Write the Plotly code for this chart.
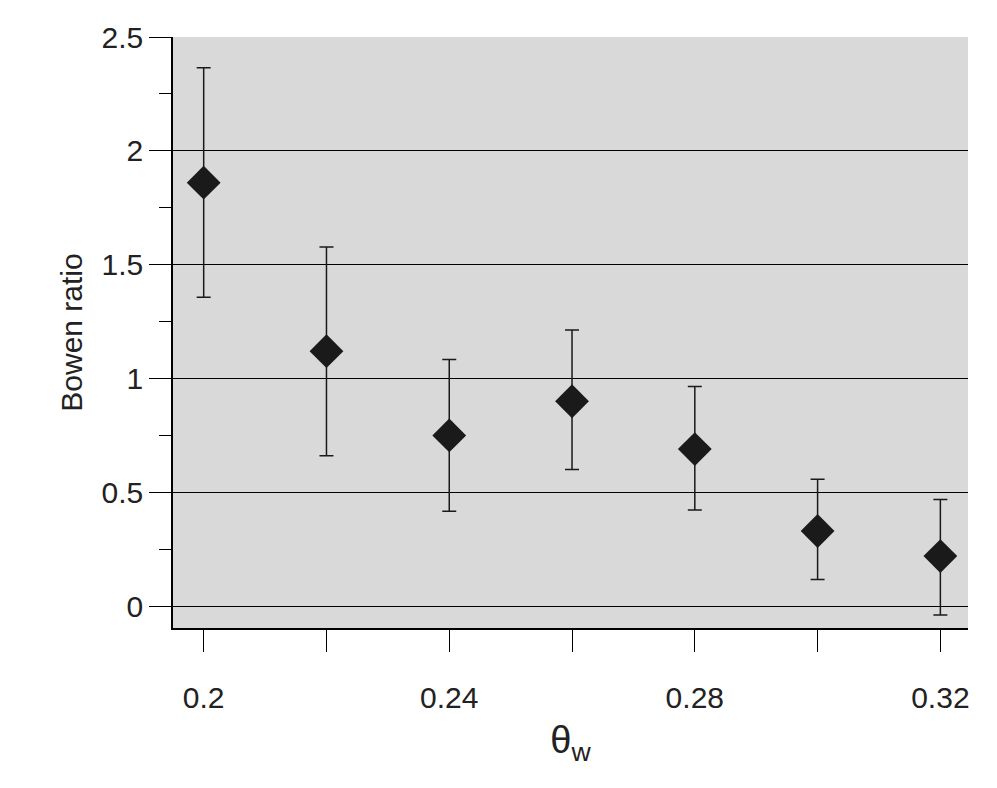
import plotly.graph_objects as go

theta_w = [0.20, 0.22, 0.24, 0.26, 0.28, 0.30, 0.32]
bowen = [1.86, 1.12, 0.75, 0.90, 0.69, 0.33, 0.22]
err_hi = [2.365, 1.578, 1.083, 1.213, 0.965, 0.557, 0.468]
err_lo = [1.357, 0.661, 0.417, 0.600, 0.422, 0.117, -0.039]

plus = [h - b for h, b in zip(err_hi, bowen)]
minus = [b - l for b, l in zip(bowen, err_lo)]

fig = go.Figure()
fig.add_trace(go.Scatter(
    x=theta_w, y=bowen, mode="markers",
    marker={"symbol": "diamond", "size": 26, "color": "#1a1a1a"},
    error_y={"type": "data", "array": plus, "arrayminus": minus,
             "color": "#1a1a1a", "thickness": 1.5, "width": 7},
    showlegend=False,
))

font = "Liberation Sans, Arial, sans-serif"
fig.update_xaxes(
    range=[0.195, 0.3245], tickvals=[0.2, 0.24, 0.28, 0.32],
    ticktext=["0.2", "0.24", "0.28", "0.32"],
    ticks="outside", ticklen=22, tickcolor="black",
    minor={"dtick": 0.02, "tick0": 0.2, "ticks": "outside", "ticklen": 22, "tickcolor": "black"},
    showgrid=False, zeroline=False, showline=True, linecolor="black", linewidth=1.5,
    tickfont={"size": 30, "family": font, "color": "#222"},
    ticklabelstandoff=20,
    title={"text": "θ<sub>w</sub>", "font": {"size": 38, "family": font, "color": "#222"}, "standoff": 14},
)
fig.update_yaxes(
    range=[-0.096, 2.5], tickvals=[0, 0.5, 1, 1.5, 2, 2.5],
    ticktext=["0", "0.5", "1", "1.5", "2", "2.5"],
    ticks="outside", ticklen=22, tickcolor="black",
    minor={"dtick": 0.25, "tick0": 0, "ticks": "outside", "ticklen": 12, "tickcolor": "black"},
    showgrid=True, gridcolor="black", gridwidth=1, zeroline=False,
    showline=True, linecolor="black", linewidth=1.5,
    tickfont={"size": 30, "family": font, "color": "#222"},
    title={"text": "Bowen ratio", "font": {"size": 30, "family": font, "color": "#222"}, "standoff": 10},
)
fig.update_layout(
    width=980, height=770,
    margin={"l": 165, "r": 20, "t": 25, "b": 150},
    plot_bgcolor="#d9d9d9", paper_bgcolor="white",
)
fig.write_html("out.html")
